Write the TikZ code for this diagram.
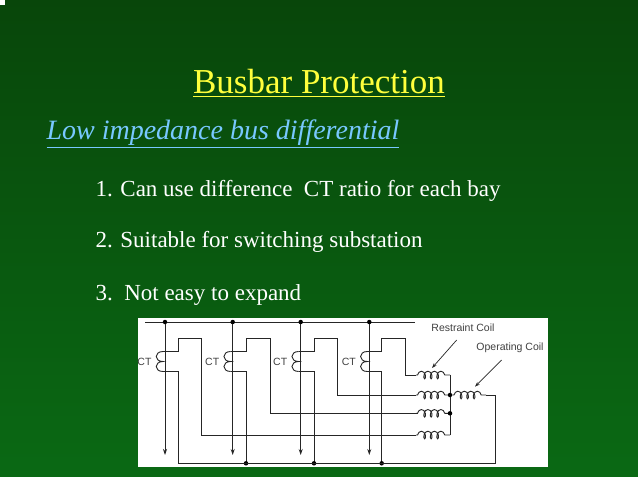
\documentclass[tikz,border=0pt]{standalone}
\usepackage{fontspec}
\setmainfont{Liberation Serif}
\newfontfamily\sansf{Liberation Sans}
\usetikzlibrary{decorations.pathmorphing,arrows.meta}
\begin{document}
\begin{tikzpicture}[x=1pt,y=-1pt,
  wire/.style={line width=0.9pt,black!85},
  dotc/.style={circle,fill=black,inner sep=0pt,minimum size=4.5pt},
  coilr/.style={wire,decorate,decoration={coil,aspect=0.6,segment length=6.5pt,amplitude=3.8pt,pre length=1.5pt,post length=1.5pt}},
  lab/.style={font=\sansf\fontsize{10.5}{12}\selectfont,text=black!75}]
\useasboundingbox (0,0) rectangle (638,477);
\shade[top color={rgb,255:red,8;green,70;blue,10},bottom color={rgb,255:red,10;green,105;blue,20}] (0,0) rectangle (638,477);
\fill[white] (0,0) rectangle (5,5);
\node[text={rgb,255:red,255;green,255;blue,60},font=\fontsize{35}{40}\selectfont] (title) at (319,83) {\underline{Busbar Protection}};
\node[anchor=west,text={rgb,255:red,120;green,200;blue,255},font=\itshape\fontsize{28}{32}\selectfont] (sub) at (43,134) {\underline{Low impedance bus differential}};
\begin{scope}[every node/.style={anchor=west,text=white,font=\fontsize{23}{26}\selectfont}]
\node (i1) at (92,191) {1. Can use difference\ \ CT ratio for each bay};
\node (i2) at (92,242) {2. Suitable for switching substation};
\node (i3) at (92,295) {3.\ \ Not easy to expand};
\end{scope}
\fill[white] (138,318) rectangle (548,467);
% bus
\coordinate (busL) at (145,322); \coordinate (busR) at (415,322);
\draw[wire] (busL) -- (busR);
\foreach \x/\a/\b/\y [count=\i] in {165/178/201.7/435, 232.7/246/270/413.3, 300.7/314/337.7/395, 369.3/381.7/405/375}{
  \node[dotc] (d\i) at (\x,322) {};
  \coordinate (e\i) at (\x,455);
  \draw[wire,-{Stealth[length=6pt,width=4pt]}] (d\i) -- (e\i);
  \draw[wire] (\x-2,351.5) .. controls (\x-11,351.5) and (\x-11,361.5) .. (\x-2,361.5)
              .. controls (\x-11,361.5) and (\x-11,371.5) .. (\x-2,371.5);
  \draw[wire] (\x-2,351.5) -- (\a,351.5) -- (\a,338) -- (\b,338) -- (\b,\y) -- (416,\y);
  \draw[wire] (\x-2,371.5) -- (\a,371.5) -- (\a,463.3);
  \node[lab,anchor=east] (ct\i) at (\x-10,361.5) {CT};
  \coordinate (rc\i) at (416,\y);
  \coordinate (rr\i) at (450,\y);
  \draw[coilr] (416,\y) -- (443,\y) -- (rr\i);
}
\node[dotc] (b2) at (246,463.3) {};
\node[dotc] (b3) at (314,463.3) {};
\node[dotc] (b4) at (381.7,463.3) {};
\draw[wire] (178,463.3) -- (495,463.3) -- (495,395) -- (486,395);
\draw[wire] (rr4) -- (rr1);
\node[dotc] (j1) at (450,395) {};
\node[dotc] (j2) at (450,413.3) {};
\draw[coilr] (j1) -- (486,395);
\node[lab] (rlab) at (463,328) {Restraint Coil};
\node[lab] (olab) at (510,348) {Operating Coil};
\draw[wire,line width=0.7pt,-{Stealth[length=5pt,width=3.5pt]}] (456.7,340) -- (432,368);
\draw[wire,line width=0.7pt,-{Stealth[length=5pt,width=3.5pt]}] (501.7,360) -- (475,386.7);
\end{tikzpicture}
\end{document}
